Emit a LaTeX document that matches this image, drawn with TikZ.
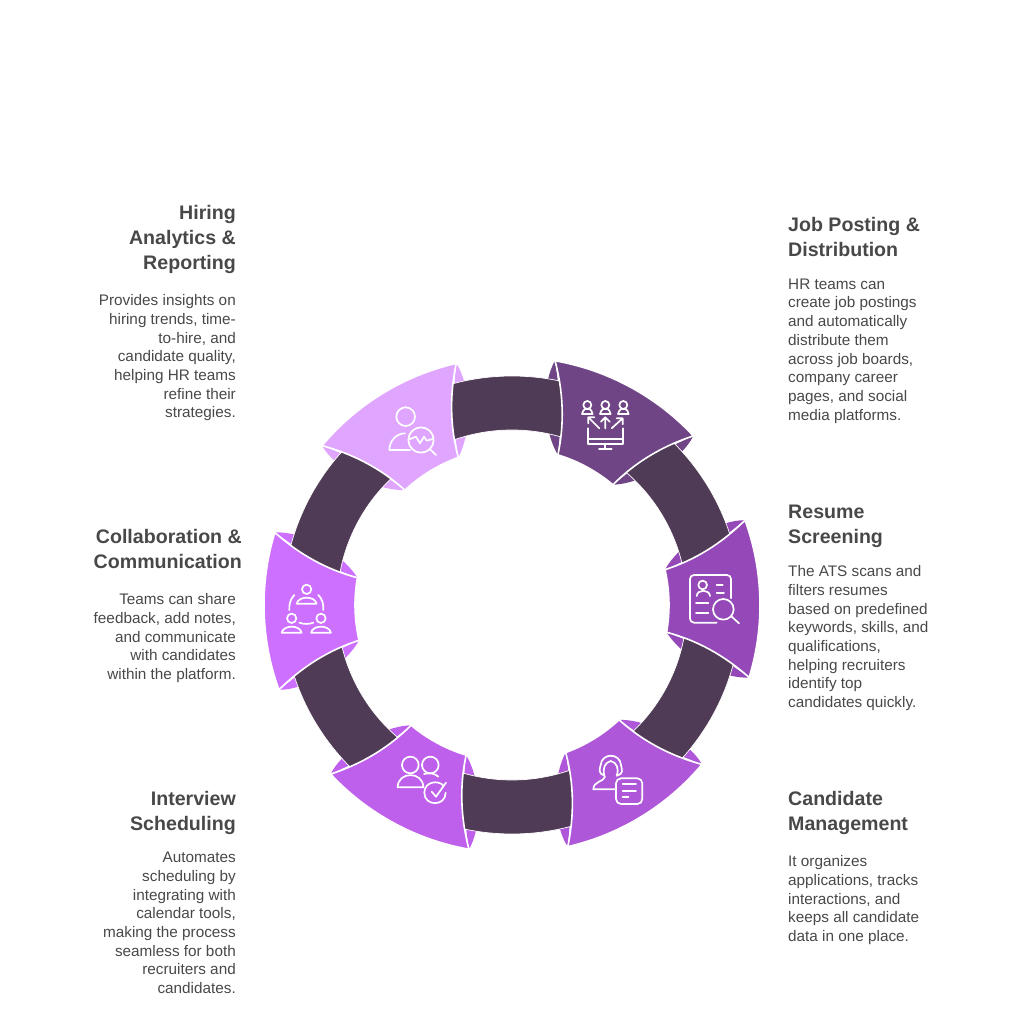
\documentclass[tikz,border=0pt]{standalone}
\usepackage{fontspec}
\setmainfont{Liberation Sans}
\definecolor{bandcol}{HTML}{4F3B55}
\definecolor{jobcol}{HTML}{6F4586}
\definecolor{resumecol}{HTML}{9549B8}
\definecolor{candcol}{HTML}{AE57D9}
\definecolor{intervcol}{HTML}{BF60EC}
\definecolor{collabcol}{HTML}{CE70FF}
\definecolor{hiringcol}{HTML}{E0A6FF}
\definecolor{textcol}{HTML}{484848}
\tikzset{
	titletext/.style={inner sep=0, text=textcol, font=\fontsize{19.6}{25}\selectfont\bfseries},
	bodytext/.style={inner sep=0, text=textcol, font=\fontsize{15.3}{18.7}\selectfont},
	iconline/.style={draw=white, line width=1.7, line cap=round, line join=round},
}

\begin{document}
\begin{tikzpicture}[x=1pt,y=1pt]
		\useasboundingbox (-512,-419) rectangle (512,605);
		
		% tabs behind the band
		\foreach \ang/\col in {61.5/jobcol,1.5/resumecol,-58.5/candcol,-118.5/intervcol,-178.5/collabcol,121.5/hiringcol}{
			\begin{scope}[rotate=\ang]
				\fill[\col] (18.5:248) .. controls (20.8:225) and (19:180) .. (11.5:157) -- (14:200) -- cycle;
				\fill[\col] (-18.5:248) .. controls (-20.8:225) and (-19:180) .. (-11.5:157) -- (-14:200) -- cycle;
			\end{scope}
		}
		
		% band
		\draw[white, line width=.7, fill=bandcol, even odd rule] (0,0) circle (229) (0,0) circle (175);
		
		% segments
		\foreach \ang/\col in {61.5/jobcol,1.5/resumecol,-58.5/candcol,-118.5/intervcol,-178.5/collabcol,121.5/hiringcol}{
			\begin{scope}[rotate=\ang]
				\draw[white, line width=1.6, line join=round, fill=\col] (18.5:248) arc[start angle=18.5, end angle=-18.5, radius=248]
					.. controls (-14.86:218.4) and (-12.3:188.3) .. (-11.5:157)
					arc[start angle=-11.5, end angle=11.5, radius=157]
					.. controls (12.3:188.3) and (14.86:218.4) .. (18.5:248) -- cycle;
			\end{scope}
		}
		
		\begin{scope}[shift={(-512,605)},yscale=-1]
			% job posting icon
			\begin{scope}[shift={(570,390)},scale=1/3]
				\foreach \px in {52,106,160}{
					\draw[iconline] (\px,45) circle (12);
					\draw[iconline] (\px-16,72) -- (\px+16,72) .. controls (\px+16,64) and (\px+9,60) .. (\px+7,57) -- (\px-7,57) .. controls (\px-9,60) and (\px-16,64) .. (\px-16,72) -- cycle;
				}
				\draw[iconline] (88,115) -- (55,82) (55,100) -- (55,82) -- (73,82);
				\draw[iconline] (106,115) -- (106,82) (93,95) -- (106,82) -- (119,95);
				\draw[iconline] (125,115) -- (158,85) (140,85) -- (158,85) -- (158,103);
				\draw[iconline] (55,115) -- (55,162) -- (160,162) -- (160,115);
				\draw[iconline] (55,148) -- (160,148);
				\draw[iconline] (106,162) -- (106,177) (87,177) -- (125,177);
			\end{scope}
			% resume icon
			\begin{scope}[shift={(680,565)},scale=1/3]
				\draw[iconline, rounded corners=4] (110,173) -- (30,173) -- (30,30) -- (153,30) -- (153,100);
				\draw[iconline] (68,60) circle (13);
				\draw[iconline] (50,93) .. controls (52,72) and (88,72) .. (90,93);
				\draw[iconline] (110,60) -- (128,60) (110,85) -- (132,85) (48,115) -- (85,115) (48,143) -- (85,143);
				\draw[iconline] (130,133) circle (31);
				\draw[iconline] (155,155) -- (177,175);
			\end{scope}
			% candidate icon
			\begin{scope}[shift={(585,745)},scale=1/3]
				\draw[iconline, rounded corners=5] (93,100) rectangle (172,177);
				\draw[iconline] (113,118) -- (153,118) (113,138) -- (153,138) (113,157) -- (130,157);
				\draw[iconline] (58,92) .. controls (40,85) and (43,75) .. (47,60) .. controls (50,23) and (105,23) .. (108,60) .. controls (110,75) and (118,85) .. (95,92);
				\draw[iconline] (58,92) .. controls (52,70) and (60,52) .. (77,48) .. controls (95,52) and (103,70) .. (95,92);
				\draw[iconline] (60,95) .. controls (58,110) and (25,108) .. (25,133) -- (90,133);
			\end{scope}
			% interview icon
			\begin{scope}[shift={(390,745)},scale=1/3]
				\draw[iconline] (61,60) circle (25);
				\draw[iconline] (121,60) circle (25);
				\draw[iconline] (23,127) .. controls (23,78) and (100,78) .. (100,127) -- cycle;
				\draw[iconline] (102,87) .. controls (118,83) and (135,85) .. (145,95);
				\draw[iconline] (160,122) .. controls (148,105) and (103,108) .. (103,143) .. controls (103,185) and (167,185) .. (167,143);
				\draw[iconline] (125,140) -- (138,155) -- (168,113);
			\end{scope}
			% collaboration icon
			\begin{scope}[shift={(275,575)},scale=1/3]
				\foreach \px/\py in {95/43,50/130,138/130}{
					\draw[iconline] (\px,\py) circle (14);
					\draw[iconline] (\px-30,\py+43) .. controls (\px-24,\py+19) and (\px+24,\py+19) .. (\px+30,\py+43) -- cycle;
				}
				\draw[iconline] (43,105) .. controls (42,88) and (46,72) .. (58,60);
				\draw[iconline] (130,60) .. controls (142,72) and (146,88) .. (145,105);
				\draw[iconline] (73,143) .. controls (85,148) and (103,148) .. (115,143);
			\end{scope}
			% hiring analytics icon
			\begin{scope}[shift={(380,400)},scale=1/3]
				\draw[iconline] (77,50) circle (28);
				\draw[iconline] (90,150) -- (28,150) .. controls (28,122) and (50,100) .. (75,100);
				\draw[iconline] (123,120) circle (38);
				\draw[iconline] (150,148) -- (168,165);
				\draw[iconline] (88,118) -- (108,110) -- (120,130) -- (132,110) -- (140,122) -- (158,117);
			\end{scope}
			
			% right labels
			\node[titletext, anchor=north west, align=left] (jobtitle) at (788,217.5) {Job Posting \&\\Distribution};
			\node[bodytext, anchor=north west, align=left] (jobbody) at (788,278.5) {HR teams can\\create job postings\\and automatically\\distribute them\\across job boards,\\company career\\pages, and social\\media platforms.};
			\node[titletext, anchor=north west, align=left] (resumetitle) at (788,504.5) {Resume\\Screening};
			\node[bodytext, anchor=north west, align=left] (resumebody) at (788,565.5) {The ATS scans and\\filters resumes\\based on predefined\\keywords, skills, and\\qualifications,\\helping recruiters\\identify top\\candidates quickly.};
			\node[titletext, anchor=north west, align=left] (candtitle) at (788,791) {Candidate\\Management};
			\node[bodytext, anchor=north west, align=left] (candbody) at (788,855.5) {It organizes\\applications, tracks\\interactions, and\\keeps all candidate\\data in one place.};
			
			% left labels
			\node[titletext, anchor=north east, align=right] (hiringtitle) at (236,205.5) {Hiring\\Analytics \&\\Reporting};
			\node[bodytext, anchor=north east, align=right] (hiringbody) at (236,294.5) {Provides insights on\\hiring trends, time-\\to-hire, and\\candidate quality,\\helping HR teams\\refine their\\strategies.};
			\node[titletext, anchor=north east, align=right] (collabtitle) at (242,529.5) {Collaboration \&\\Communication};
			\node[bodytext, anchor=north east, align=right] (collabbody) at (236,593.5) {Teams can share\\feedback, add notes,\\and communicate\\with candidates\\within the platform.};
			\node[titletext, anchor=north east, align=right] (intervtitle) at (236,791) {Interview\\Scheduling};
			\node[bodytext, anchor=north east, align=right] (intervbody) at (236,852) {Automates\\scheduling by\\integrating with\\calendar tools,\\making the process\\seamless for both\\recruiters and\\candidates.};
		\end{scope}
	\end{tikzpicture}
\end{document}
